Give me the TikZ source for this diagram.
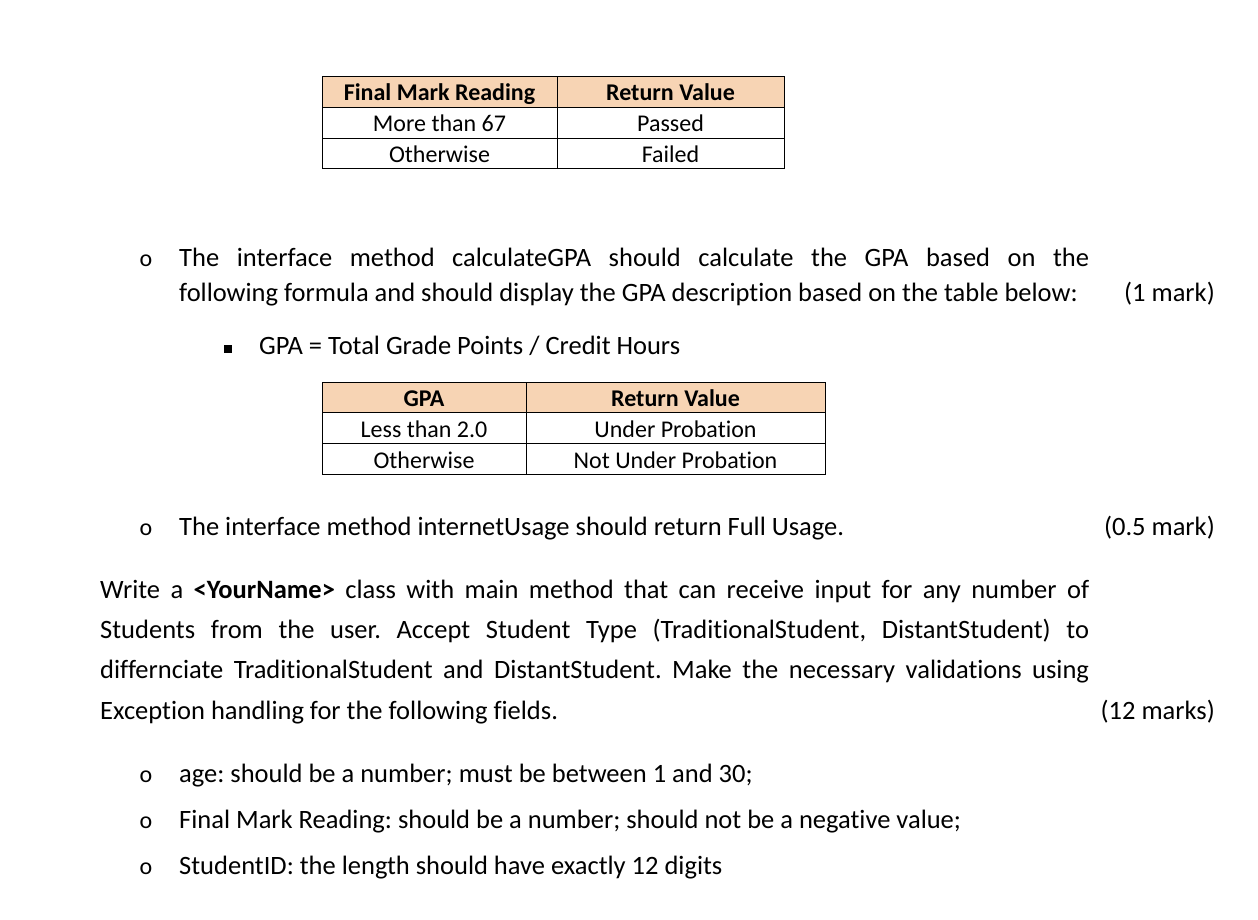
\documentclass[tikz,border=0pt]{standalone}
\usepackage{fontspec}
\setmainfont[Ligatures={NoCommon}]{Carlito}
\frenchspacing
\begin{document}
\begin{tikzpicture}[x=1pt,y=-1pt,
  cell/.style={anchor=base,inner sep=0,font=\fontsize{24}{27}\selectfont},
  hd/.style={anchor=base,inner sep=0,font=\fontsize{24}{27}\selectfont\bfseries},
  txt/.style={anchor=base west,inner sep=0,font=\fontsize{26.5}{30}\selectfont},
  rt/.style={anchor=base east,inner sep=0,font=\fontsize{26.5}{30}\selectfont},
  bul/.style={anchor=base,inner sep=0,font=\fontsize{24}{30}\selectfont}]
\definecolor{peach}{HTML}{F7D4B4}
\useasboundingbox (0,0) rectangle (1258,920);
% table 1
\fill[peach] (322,77) rectangle (784,108);
\draw[line width=1] (322,77) rectangle (784,169);
\draw[line width=1] (322,108)--(784,108) (322,139)--(784,139) (557,77)--(557,169);
\node[hd] (a1) at (439.5,101) {Final Mark Reading};
\node[hd] (a2) at (670.5,101) {Return Value};
\node[cell] (a3) at (439.5,132) {More than 67};
\node[cell] (a4) at (670.5,132) {Passed};
\node[cell] (a5) at (439.5,163) {Otherwise};
\node[cell] (a6) at (670.5,163) {Failed};
% table 2
\fill[peach] (322,382) rectangle (825,412);
\draw[line width=1] (322,382) rectangle (825,474);
\draw[line width=1] (322,412)--(825,412) (322,443)--(825,443) (526,382)--(526,474);
\node[hd] (b1) at (424,406) {GPA};
\node[hd] (b2) at (675.5,406) {Return Value};
\node[cell] (b3) at (424,437) {Less than 2.0};
\node[cell] (b4) at (675.5,437) {Under Probation};
\node[cell] (b5) at (424,468) {Otherwise};
\node[cell] (b6) at (675.5,468) {Not Under Probation};
% text
\node[bul] (o1) at (146,266) {o};
\node[txt] (t1) at (179,266) {\makebox[910pt][s]{The interface method calculateGPA should calculate the GPA based on the}};
\node[txt] (t2) at (179,301) {following formula and should display the GPA description based on the table below:};
\node[rt] (m1) at (1215,301) {(1 mark)};
\node[bul] (s1) at (228,353) {\rule{8pt}{8pt}};
\node[txt] (t3) at (259,354) {GPA = Total Grade Points / Credit Hours};
\node[bul] (o2) at (146,535) {o};
\node[txt] (t4) at (179,535) {The interface method internetUsage should return Full Usage.};
\node[rt] (m2) at (1215,535) {(0.5 mark)};
\node[txt] (p1) at (100,598) {\makebox[989pt][s]{Write a \textbf{<YourName>} class with main method that can receive input for any number of}};
\node[txt] (p2) at (100,638) {\makebox[989pt][s]{Students from the user. Accept Student Type (TraditionalStudent, DistantStudent) to}};
\node[txt] (p3) at (100,678) {\makebox[989pt][s]{differnciate TraditionalStudent and DistantStudent. Make the necessary validations using}};
\node[txt] (p4) at (100,719) {Exception handling for the following fields.};
\node[rt] (m3) at (1215,719) {(12 marks)};
\node[bul] (o3) at (146,782) {o};
\node[txt] (u1) at (179,782) {age: should be a number; must be between 1 and 30;};
\node[bul] (o4) at (146,828) {o};
\node[txt] (u2) at (179,828) {Final Mark Reading: should be a number; should not be a negative value;};
\node[bul] (o5) at (146,874) {o};
\node[txt] (u3) at (179,874) {StudentID: the length should have exactly 12 digits};
\end{tikzpicture}
\end{document}
